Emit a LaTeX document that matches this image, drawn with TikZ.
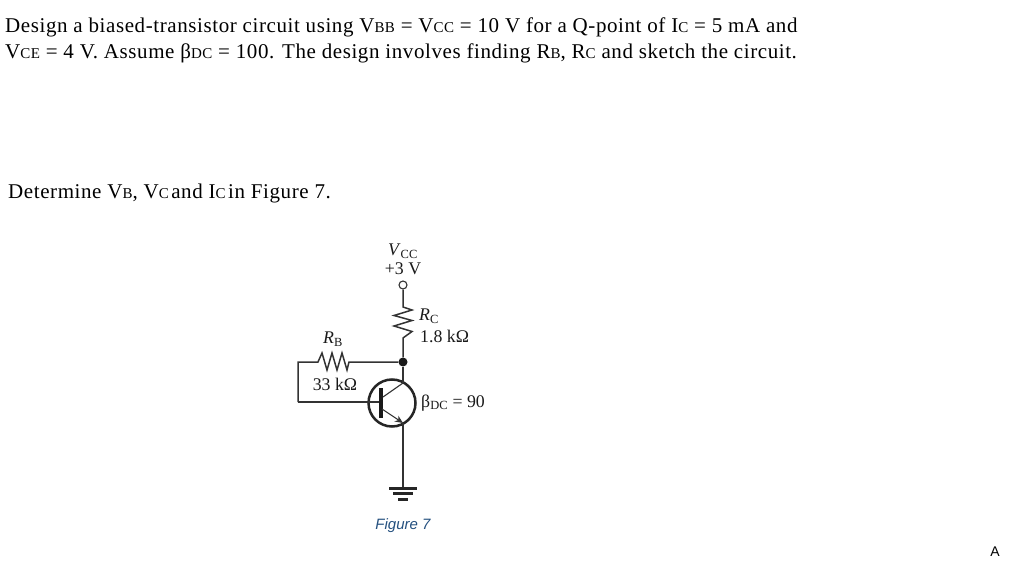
\documentclass[tikz,border=0pt]{standalone}
\usepackage{fontspec}
\setmainfont{Liberation Serif}
\newfontfamily\qfont[LetterSpace=2.8]{Liberation Serif}
\newfontfamily\hsans{Liberation Sans}
\newcommand{\qs}[1]{{\fontsize{15}{15}\selectfont #1}}
\newcommand{\cs}[1]{\textsubscript{#1}}
\usetikzlibrary{arrows.meta,calc}
\definecolor{ink}{HTML}{1A1A1A}
\definecolor{wire}{HTML}{333333}
\definecolor{figblue}{HTML}{24507F}
\tikzset{
  x=1pt,y=-1pt,
  question/.style={anchor=base west,inner sep=0pt,font=\fontsize{21}{21}\selectfont\qfont,text=black},
  lab/.style={inner sep=0pt,font=\fontsize{17.8}{18}\selectfont,text=ink},
  wirepath/.style={draw=wire,line width=1.5pt,line join=miter},
  groundbar/.style={draw=black!85,line width=3pt},
}
\begin{document}
\begin{tikzpicture}
\useasboundingbox (0,0) rectangle (1030,577);
\fill[white] (0,0) rectangle (1030,577);

\node[question] (q1) at (5,33) {Design a biased-transistor circuit using V\qs{BB} = V\qs{CC} = 10 V for a Q-point of I\qs{C} = 5 mA and};
\node[question] (q2) at (5,59) {V\qs{CE} = 4 V. Assume β\qs{DC} = 100. The design involves finding R\qs{B}, R\qs{C} and sketch the circuit.};
\node[question] (q3) at (8,199) {Determine V\qs{B}, V\qs{C}\hspace{2.5pt}and I\qs{C}\hspace{2.5pt}in Figure 7.};

\coordinate (rctop) at (403,307);
\coordinate (rcbot) at (403,338);
\coordinate (j) at (403,362);
\coordinate (rbr) at (349,362);
\coordinate (rbl) at (318,362);
\coordinate (lt) at (298,362);
\coordinate (lb) at (298,402);
\coordinate (base) at (381,402);
\coordinate (cin) at (383,397);
\coordinate (cout) at (403,383);
\coordinate (ein) at (382,409);
\coordinate (eout) at (403,423);
\coordinate (gnd) at (403,488);

\node[circle,draw=wire,line width=1.1pt,minimum size=8pt,inner sep=0pt] (vcc) at (403,285) {};
\node[circle,fill=black!90,minimum size=9pt,inner sep=0pt] (jd) at (j) {};
\node[circle,draw=black!85,line width=2.5pt,minimum size=47pt,inner sep=0pt] (q) at (392,403) {};

\draw[wirepath] (vcc.south) -- (rctop) -- (412,310) -- (394,315.5) -- (412,320.5) -- (394,326) -- (412,331.5) -- (rcbot) -- (jd.north);
\draw[wirepath] (lb) -- (lt) -- (rbl) -- (322,353) -- (327,370) -- (332,353) -- (337,370) -- (342,353) -- (347,370) -- (rbr) -- (jd.west);
\draw[wirepath] (lb) -- (base);
\draw[line width=4.5pt,draw=black!90] (381,388) -- (381,418);
\draw[wirepath,line width=1.1pt] (cin) -- (cout);
\draw[wirepath] (cout) -- (jd.south);
\draw[wirepath,line width=1.1pt,-{Stealth[length=8pt,width=7pt]}] (ein) -- (eout);
\draw[wirepath] (eout) -- (gnd);
\draw[groundbar] (389,488) -- (417,488);
\draw[groundbar] (393,493.5) -- (413,493.5);
\draw[groundbar] (398,499) -- (408,499);

\node[lab] (lvcc) at (403,251) {\textit{V}\cs{CC}};
\node[lab] (lv3) at (403,269) {+3 V};
\node[lab,anchor=west] (lrc) at (419,316) {\textit{R}\cs{C}};
\node[lab,anchor=west] (lrcv) at (420,336) {1.8 kΩ};
\node[lab] (lrb) at (333,339) {\textit{R}\cs{B}};
\node[lab] (lrbv) at (335,384) {33 kΩ};
\node[lab,anchor=west] (lbeta) at (421,403) {β\cs{DC} = 90};
\node[inner sep=0pt,text=figblue,font=\fontsize{15}{15}\selectfont\hsans\itshape] (fig) at (403,526) {Figure 7};
\node[inner sep=0pt,text=black,font=\fontsize{14}{14}\selectfont\hsans] (a) at (995,552) {A};
\end{tikzpicture}
\end{document}
